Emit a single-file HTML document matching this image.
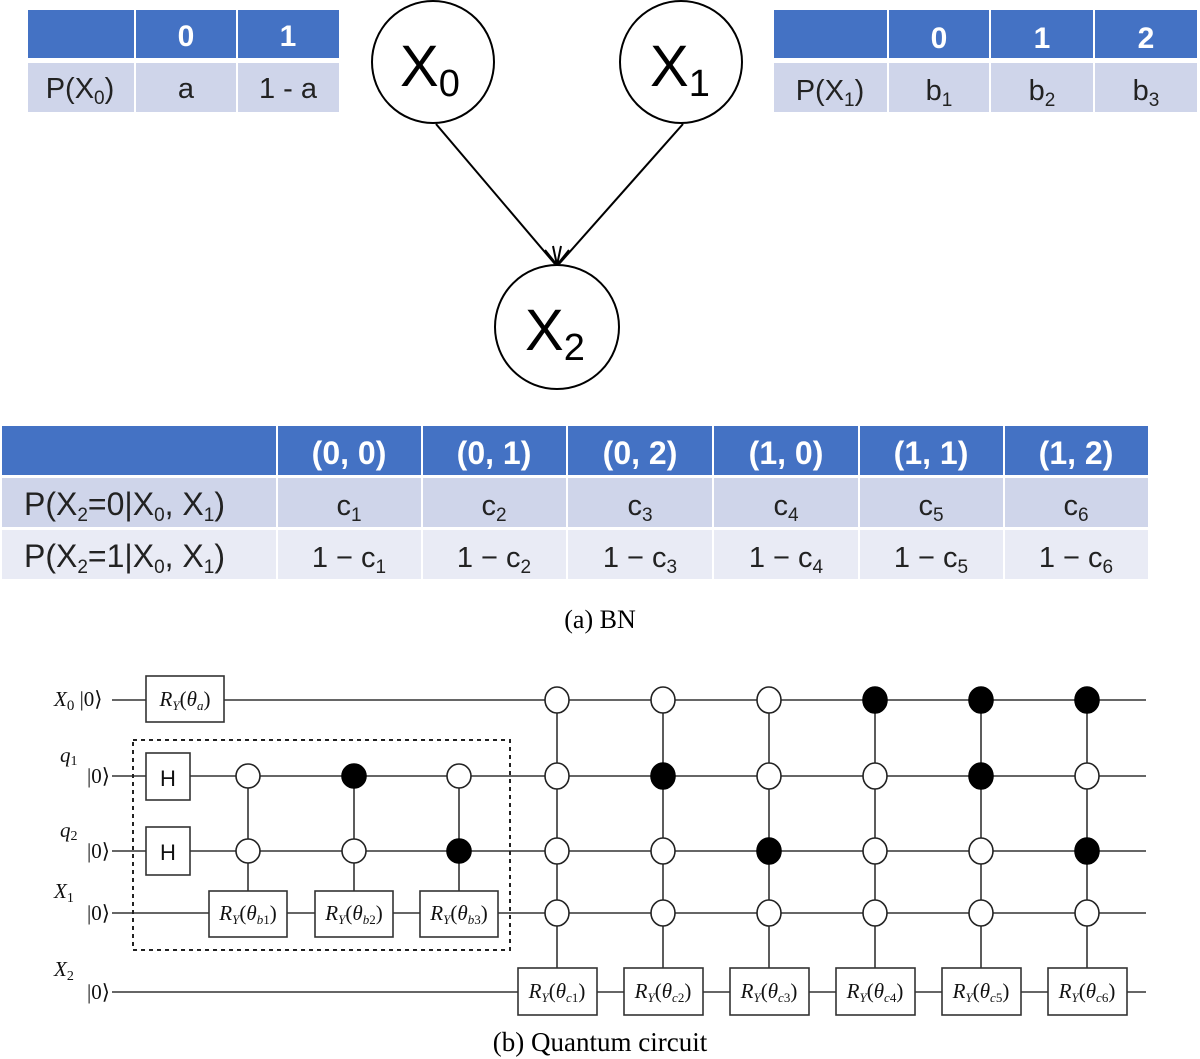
<!DOCTYPE html>
<html><head><meta charset="utf-8"><style>
html,body{margin:0;padding:0;background:#fff;}
svg{display:block}
.h{fill:#fff;font-family:"Liberation Sans",sans-serif;font-weight:bold;font-size:30px;text-anchor:middle}
.b{fill:#222;font-family:"Liberation Sans",sans-serif;font-size:29px;text-anchor:middle}
.s{font-size:19px}
.q{font-family:"Liberation Serif",serif;font-size:21px;fill:#111}
.g{font-family:"Liberation Serif",serif;font-size:21px;fill:#111;text-anchor:middle}
.w{stroke:#333;stroke-width:1.6;fill:none}
.o{fill:#fff;stroke:#222;stroke-width:1.6}
.f{fill:#000;stroke:#000;stroke-width:1.6}
.bx{fill:#fff;stroke:#333;stroke-width:1.6}
</style></head><body>
<svg width="1200" height="1059" viewBox="0 0 1200 1059" xmlns="http://www.w3.org/2000/svg">
<!-- top-left table -->
<rect x="28" y="10" width="106" height="48" fill="#4472C4"/>
<rect x="136" y="10" width="100" height="48" fill="#4472C4"/>
<rect x="238" y="10" width="101" height="48" fill="#4472C4"/>
<rect x="28" y="63" width="106" height="49" fill="#CFD5EA"/>
<rect x="136" y="63" width="100" height="49" fill="#CFD5EA"/>
<rect x="238" y="63" width="101" height="49" fill="#CFD5EA"/>
<text class="h" x="186" y="46">0</text><text class="h" x="288" y="46">1</text>
<text class="b" x="80" y="98">P(X<tspan class="s" dy="6">0</tspan><tspan dy="-6">)</tspan></text>
<text class="b" x="186" y="98">a</text><text class="b" x="288" y="98">1 - a</text>
<!-- top-right table -->
<rect x="774" y="10" width="113" height="48" fill="#4472C4"/>
<rect x="889" y="10" width="100" height="48" fill="#4472C4"/>
<rect x="991" y="10" width="102" height="48" fill="#4472C4"/>
<rect x="1095" y="10" width="102" height="48" fill="#4472C4"/>
<rect x="774" y="63" width="113" height="49" fill="#CFD5EA"/>
<rect x="889" y="63" width="100" height="49" fill="#CFD5EA"/>
<rect x="991" y="63" width="102" height="49" fill="#CFD5EA"/>
<rect x="1095" y="63" width="102" height="49" fill="#CFD5EA"/>
<text class="h" x="939" y="48">0</text><text class="h" x="1042" y="48">1</text><text class="h" x="1146" y="48">2</text>
<text class="b" x="830" y="100">P(X<tspan class="s" dy="6">1</tspan><tspan dy="-6">)</tspan></text>
<text class="b" x="939" y="100">b<tspan class="s" dy="6">1</tspan></text>
<text class="b" x="1042" y="100">b<tspan class="s" dy="6">2</tspan></text>
<text class="b" x="1146" y="100">b<tspan class="s" dy="6">3</tspan></text>
<!-- BN graph -->
<line x1="436" y1="124" x2="555" y2="264" stroke="#000" stroke-width="2"/>
<line x1="683" y1="124" x2="559" y2="264" stroke="#000" stroke-width="2"/>
<path d="M545 250 L557 265 L553 246 M569 250 L557 265 L561 246" stroke="#000" stroke-width="2" fill="none"/>
<circle cx="433" cy="62" r="61" fill="#fff" stroke="#000" stroke-width="2"/>
<circle cx="681" cy="62" r="61" fill="#fff" stroke="#000" stroke-width="2"/>
<circle cx="557" cy="327" r="62" fill="#fff" stroke="#000" stroke-width="2"/>
<text x="400" y="86" font-family="Liberation Sans,sans-serif" font-size="58" fill="#000">X<tspan font-size="38" dy="10">0</tspan></text>
<text x="650" y="86" font-family="Liberation Sans,sans-serif" font-size="58" fill="#000">X<tspan font-size="38" dy="10">1</tspan></text>
<text x="525" y="350" font-family="Liberation Sans,sans-serif" font-size="58" fill="#000">X<tspan font-size="38" dy="10">2</tspan></text>
<!-- bottom table -->
<g fill="#4472C4">
<rect x="2" y="426" width="274" height="49"/><rect x="278" y="426" width="143" height="49"/><rect x="423" y="426" width="143" height="49"/><rect x="568" y="426" width="144" height="49"/><rect x="714" y="426" width="144" height="49"/><rect x="860" y="426" width="143" height="49"/><rect x="1005" y="426" width="143" height="49"/>
</g>
<g fill="#CFD5EA">
<rect x="2" y="478" width="274" height="49"/><rect x="278" y="478" width="143" height="49"/><rect x="423" y="478" width="143" height="49"/><rect x="568" y="478" width="144" height="49"/><rect x="714" y="478" width="144" height="49"/><rect x="860" y="478" width="143" height="49"/><rect x="1005" y="478" width="143" height="49"/>
</g>
<g fill="#E9EBF5">
<rect x="2" y="530" width="274" height="49"/><rect x="278" y="530" width="143" height="49"/><rect x="423" y="530" width="143" height="49"/><rect x="568" y="530" width="144" height="49"/><rect x="714" y="530" width="144" height="49"/><rect x="860" y="530" width="143" height="49"/><rect x="1005" y="530" width="143" height="49"/>
</g>
<text class="h" x="349" y="464" style="font-size:32px">(0, 0)</text><text class="h" x="494" y="464" style="font-size:32px">(0, 1)</text><text class="h" x="640" y="464" style="font-size:32px">(0, 2)</text>
<text class="h" x="786" y="464" style="font-size:32px">(1, 0)</text><text class="h" x="931" y="464" style="font-size:32px">(1, 1)</text><text class="h" x="1076" y="464" style="font-size:32px">(1, 2)</text>
<text class="b" x="24" y="515" style="font-size:32px;text-anchor:start">P(X<tspan class="s" dy="6">2</tspan><tspan dy="-6">=0|X</tspan><tspan class="s" dy="6">0</tspan><tspan dy="-6">, X</tspan><tspan class="s" dy="6">1</tspan><tspan dy="-6">)</tspan></text>
<text class="b" x="24" y="567" style="font-size:32px;text-anchor:start">P(X<tspan class="s" dy="6">2</tspan><tspan dy="-6">=1|X</tspan><tspan class="s" dy="6">0</tspan><tspan dy="-6">, X</tspan><tspan class="s" dy="6">1</tspan><tspan dy="-6">)</tspan></text>
<text class="b" x="349" y="515">c<tspan class="s" dy="6">1</tspan></text><text class="b" x="494" y="515">c<tspan class="s" dy="6">2</tspan></text><text class="b" x="640" y="515">c<tspan class="s" dy="6">3</tspan></text>
<text class="b" x="786" y="515">c<tspan class="s" dy="6">4</tspan></text><text class="b" x="931" y="515">c<tspan class="s" dy="6">5</tspan></text><text class="b" x="1076" y="515">c<tspan class="s" dy="6">6</tspan></text>
<text class="b" x="349" y="567">1 − c<tspan class="s" dy="6">1</tspan></text><text class="b" x="494" y="567">1 − c<tspan class="s" dy="6">2</tspan></text><text class="b" x="640" y="567">1 − c<tspan class="s" dy="6">3</tspan></text>
<text class="b" x="786" y="567">1 − c<tspan class="s" dy="6">4</tspan></text><text class="b" x="931" y="567">1 − c<tspan class="s" dy="6">5</tspan></text><text class="b" x="1076" y="567">1 − c<tspan class="s" dy="6">6</tspan></text>
<text x="600" y="628" text-anchor="middle" font-family="Liberation Serif,serif" font-size="26" fill="#000">(a)  BN</text>
<!-- circuit wires -->
<g class="w">
<line x1="112" y1="700" x2="1146" y2="700"/>
<line x1="112" y1="776" x2="1146" y2="776"/>
<line x1="112" y1="851" x2="1146" y2="851"/>
<line x1="112" y1="913" x2="1146" y2="913"/>
<line x1="112" y1="992" x2="1146" y2="992"/>
<line x1="248" y1="776" x2="248" y2="891"/><line x1="354" y1="776" x2="354" y2="891"/><line x1="459" y1="776" x2="459" y2="891"/>
<line x1="557" y1="700" x2="557" y2="968"/><line x1="663" y1="700" x2="663" y2="968"/><line x1="769" y1="700" x2="769" y2="968"/>
<line x1="875" y1="700" x2="875" y2="968"/><line x1="981" y1="700" x2="981" y2="968"/><line x1="1087" y1="700" x2="1087" y2="968"/>
</g>
<rect x="133" y="740" width="377" height="210" fill="none" stroke="#222" stroke-width="2" stroke-dasharray="4,4"/>
<!-- labels -->
<g class="q">
<text x="54" y="706"><tspan font-style="italic">X</tspan><tspan font-size="15" dy="4">0</tspan><tspan dy="-4"> |0⟩</tspan></text>
<text x="60" y="762" font-style="italic">q<tspan font-size="14" dy="3" font-style="normal">1</tspan></text>
<text x="87" y="783">|0⟩</text>
<text x="60" y="837" font-style="italic">q<tspan font-size="14" dy="3" font-style="normal">2</tspan></text>
<text x="87" y="858">|0⟩</text>
<text x="54" y="898" font-style="italic">X<tspan font-size="14" dy="4" font-style="normal">1</tspan></text>
<text x="87" y="920">|0⟩</text>
<text x="54" y="976" font-style="italic">X<tspan font-size="14" dy="4" font-style="normal">2</tspan></text>
<text x="87" y="999">|0⟩</text>
</g>
<!-- gates -->
<rect class="bx" x="146" y="676" width="78" height="46"/>
<text class="g" x="185" y="706"><tspan font-style="italic">R</tspan><tspan font-size="13" font-style="italic" dy="4">Y</tspan><tspan dy="-4">(</tspan><tspan font-style="italic">θ</tspan><tspan font-size="13" font-style="italic" dy="4">a</tspan><tspan dy="-4">)</tspan></text>
<rect class="bx" x="146" y="753" width="44" height="47"/>
<rect class="bx" x="146" y="827" width="44" height="48"/>
<text x="168" y="786" text-anchor="middle" font-family="Liberation Sans,sans-serif" font-size="22" fill="#111">H</text>
<text x="168" y="860" text-anchor="middle" font-family="Liberation Sans,sans-serif" font-size="22" fill="#111">H</text>
<g>
<rect class="bx" x="209" y="891" width="78" height="46"/>
<rect class="bx" x="315" y="891" width="78" height="46"/>
<rect class="bx" x="420" y="891" width="78" height="46"/>
</g>
<text class="g" x="248" y="920"><tspan font-style="italic">R</tspan><tspan font-size="13" font-style="italic" dy="4">Y</tspan><tspan dy="-4">(</tspan><tspan font-style="italic">θ</tspan><tspan font-size="13" dy="4"><tspan font-style="italic">b</tspan>1</tspan><tspan dy="-4">)</tspan></text>
<text class="g" x="354" y="920"><tspan font-style="italic">R</tspan><tspan font-size="13" font-style="italic" dy="4">Y</tspan><tspan dy="-4">(</tspan><tspan font-style="italic">θ</tspan><tspan font-size="13" dy="4"><tspan font-style="italic">b</tspan>2</tspan><tspan dy="-4">)</tspan></text>
<text class="g" x="459" y="920"><tspan font-style="italic">R</tspan><tspan font-size="13" font-style="italic" dy="4">Y</tspan><tspan dy="-4">(</tspan><tspan font-style="italic">θ</tspan><tspan font-size="13" dy="4"><tspan font-style="italic">b</tspan>3</tspan><tspan dy="-4">)</tspan></text>
<!-- left controls -->
<ellipse class="o" cx="248" cy="776" rx="12" ry="12"/><ellipse class="f" cx="354" cy="776" rx="12" ry="12"/><ellipse class="o" cx="459" cy="776" rx="12" ry="12"/>
<ellipse class="o" cx="248" cy="851" rx="12" ry="12"/><ellipse class="o" cx="354" cy="851" rx="12" ry="12"/><ellipse class="f" cx="459" cy="851" rx="12" ry="12"/>
<!-- right controls -->
<g>
<ellipse class="o" cx="557" cy="700" rx="12" ry="13"/><ellipse class="o" cx="663" cy="700" rx="12" ry="13"/><ellipse class="o" cx="769" cy="700" rx="12" ry="13"/><ellipse class="f" cx="875" cy="700" rx="12" ry="13"/><ellipse class="f" cx="981" cy="700" rx="12" ry="13"/><ellipse class="f" cx="1087" cy="700" rx="12" ry="13"/>
<ellipse class="o" cx="557" cy="776" rx="12" ry="13"/><ellipse class="f" cx="663" cy="776" rx="12" ry="13"/><ellipse class="o" cx="769" cy="776" rx="12" ry="13"/><ellipse class="o" cx="875" cy="776" rx="12" ry="13"/><ellipse class="f" cx="981" cy="776" rx="12" ry="13"/><ellipse class="o" cx="1087" cy="776" rx="12" ry="13"/>
<ellipse class="o" cx="557" cy="851" rx="12" ry="13"/><ellipse class="o" cx="663" cy="851" rx="12" ry="13"/><ellipse class="f" cx="769" cy="851" rx="12" ry="13"/><ellipse class="o" cx="875" cy="851" rx="12" ry="13"/><ellipse class="o" cx="981" cy="851" rx="12" ry="13"/><ellipse class="f" cx="1087" cy="851" rx="12" ry="13"/>
<ellipse class="o" cx="557" cy="913" rx="12" ry="13"/><ellipse class="o" cx="663" cy="913" rx="12" ry="13"/><ellipse class="o" cx="769" cy="913" rx="12" ry="13"/><ellipse class="o" cx="875" cy="913" rx="12" ry="13"/><ellipse class="o" cx="981" cy="913" rx="12" ry="13"/><ellipse class="o" cx="1087" cy="913" rx="12" ry="13"/>
</g>
<g>
<rect class="bx" x="518" y="968" width="79" height="47"/><rect class="bx" x="624" y="968" width="79" height="47"/><rect class="bx" x="730" y="968" width="79" height="47"/>
<rect class="bx" x="836" y="968" width="79" height="47"/><rect class="bx" x="942" y="968" width="79" height="47"/><rect class="bx" x="1048" y="968" width="79" height="47"/>
</g>
<text class="g" x="557" y="998"><tspan font-style="italic">R</tspan><tspan font-size="13" font-style="italic" dy="4">Y</tspan><tspan dy="-4">(</tspan><tspan font-style="italic">θ</tspan><tspan font-size="13" dy="4"><tspan font-style="italic">c</tspan>1</tspan><tspan dy="-4">)</tspan></text>
<text class="g" x="663" y="998"><tspan font-style="italic">R</tspan><tspan font-size="13" font-style="italic" dy="4">Y</tspan><tspan dy="-4">(</tspan><tspan font-style="italic">θ</tspan><tspan font-size="13" dy="4"><tspan font-style="italic">c</tspan>2</tspan><tspan dy="-4">)</tspan></text>
<text class="g" x="769" y="998"><tspan font-style="italic">R</tspan><tspan font-size="13" font-style="italic" dy="4">Y</tspan><tspan dy="-4">(</tspan><tspan font-style="italic">θ</tspan><tspan font-size="13" dy="4"><tspan font-style="italic">c</tspan>3</tspan><tspan dy="-4">)</tspan></text>
<text class="g" x="875" y="998"><tspan font-style="italic">R</tspan><tspan font-size="13" font-style="italic" dy="4">Y</tspan><tspan dy="-4">(</tspan><tspan font-style="italic">θ</tspan><tspan font-size="13" dy="4"><tspan font-style="italic">c</tspan>4</tspan><tspan dy="-4">)</tspan></text>
<text class="g" x="981" y="998"><tspan font-style="italic">R</tspan><tspan font-size="13" font-style="italic" dy="4">Y</tspan><tspan dy="-4">(</tspan><tspan font-style="italic">θ</tspan><tspan font-size="13" dy="4"><tspan font-style="italic">c</tspan>5</tspan><tspan dy="-4">)</tspan></text>
<text class="g" x="1087" y="998"><tspan font-style="italic">R</tspan><tspan font-size="13" font-style="italic" dy="4">Y</tspan><tspan dy="-4">(</tspan><tspan font-style="italic">θ</tspan><tspan font-size="13" dy="4"><tspan font-style="italic">c</tspan>6</tspan><tspan dy="-4">)</tspan></text>
<text x="600" y="1051" text-anchor="middle" font-family="Liberation Serif,serif" font-size="27" fill="#000">(b)  Quantum circuit</text>
</svg>
</body></html>
